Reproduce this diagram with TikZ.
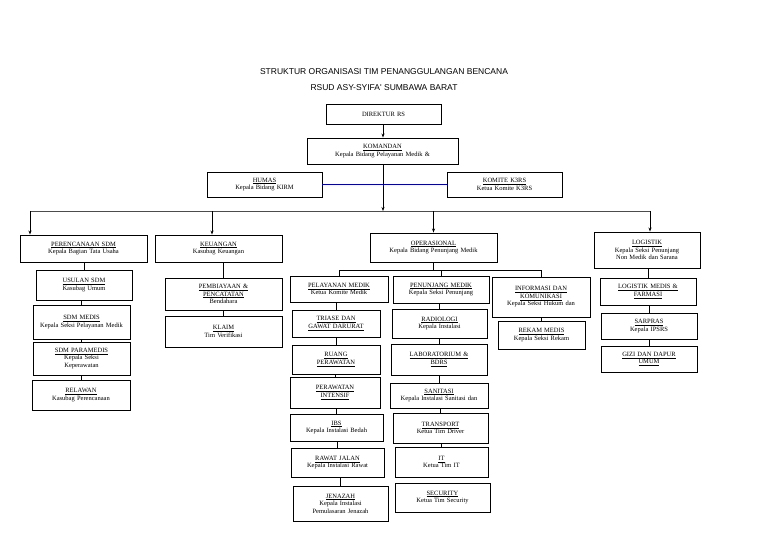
\documentclass[tikz,border=0pt]{standalone}
\usepackage{fontspec}
\setmainfont{Liberation Serif}
\newfontfamily\titlefont{Liberation Sans}
\usetikzlibrary{arrows.meta, positioning, calc}
\tikzset{
  unit/.style = {
    draw, line width=0.9pt, fill=white, align=center, inner sep=1pt,
    font=\fontsize{6.5}{7.5}\selectfont
  },
  arrow/.style = {-{Stealth[length=4pt,width=3pt]}, line width=0.7pt},
  link/.style = {line width=0.7pt},
}
% box from corner coordinates (px, y downwards)
\newcommand{\unitbox}[6]{%
  \pgfmathsetmacro{\uw}{#4-#2}\pgfmathsetmacro{\uh}{#5-#3}\pgfmathsetmacro{\utw}{#4-#2-4}%
  \node[unit, minimum width=\uw pt, minimum height=\uh pt, text width=\utw pt]
    (#1) at ({(#2+#4)/2},{(#3+#5)/2}) {#6};}
\newcommand{\hd}[1]{\underline{#1}}

\begin{document}
\begin{tikzpicture}[x=1pt, y=-1pt]
    \useasboundingbox (0,0) rectangle (768,543);

    % Title
    \node[font=\titlefont\fontsize{8.5}{10}\selectfont] (title1) at (384,72) {STRUKTUR ORGANISASI TIM PENANGGULANGAN BENCANA};
    \node[font=\titlefont\fontsize{8.5}{10}\selectfont] (title2) at (384,88) {RSUD ASY-SYIFA' SUMBAWA BARAT};

    % Top of the chart
    \unitbox{direktur}{326}{104}{441}{124}{DIREKTUR RS}
    \unitbox{komandan}{307}{138}{458}{164}{\hd{KOMANDAN}\\Kepala Bidang Pelayanan Medik \&}
    \unitbox{humas}{207}{172}{322}{197}{\hd{HUMAS}\\Kepala Bidang KIRM}
    \unitbox{komite}{447}{172}{562}{197}{\hd{KOMITE K3RS}\\Ketua Komite K3RS}
    \coordinate (bar) at (383,211);
    \coordinate (barL) at (30,211);
    \coordinate (barM) at (212,211);
    \coordinate (barR) at (650,211);

    % Main units
    \unitbox{perencanaan}{20}{235}{147}{262}{\hd{PERENCANAAN SDM}\\Kepala Bagian Tata Usaha}
    \unitbox{keuangan}{155}{235}{282}{262}{\hd{KEUANGAN}\\Kasubag Keuangan}
    \unitbox{operasional}{370}{233}{497}{262}{\hd{OPERASIONAL}\\Kepala Bidang Penunjang Medik}
    \unitbox{logistik}{594}{232}{700}{268}{\hd{LOGISTIK}\\Kepala Seksi Penunjang Non Medik dan Sarana}

    % Perencanaan SDM column
    \unitbox{usulan}{36}{270}{132}{300}{\hd{USULAN SDM}\\Kasubag Umum}
    \unitbox{sdmmedis}{33}{305}{130}{339}{\hd{SDM MEDIS}\\Kepala Seksi Pelayanan Medik}
    \unitbox{paramedis}{33}{342}{130}{375}{\hd{SDM PARAMEDIS}\\Kepala Seksi\\Keperawatan}
    \unitbox{relawan}{32}{380}{130}{410}{\hd{RELAWAN}\\Kasubag Perencanaan}

    % Keuangan column
    \unitbox{pembiayaan}{165}{278}{282}{310}{\hd{PEMBIAYAAN \&}\\\hd{PENCATATAN}\\Bendahara}
    \unitbox{klaim}{165}{316}{282}{347}{\hd{KLAIM}\\Tim Verifikasi}

    % Operasional sub units
    \unitbox{pelayanan}{290}{276}{388}{302}{\hd{PELAYANAN MEDIK}\\Ketua Komite Medik}
    \unitbox{penunjang}{393}{276}{489}{303}{\hd{PENUNJANG MEDIK}\\Kepala Seksi Penunjang}
    \unitbox{informasi}{492}{277}{590}{317}{\hd{INFORMASI DAN}\\\hd{KOMUNIKASI}\\Kepala Seksi Hukum dan}

    \unitbox{triase}{292}{310}{380}{337}{\hd{TRIASE DAN}\\\hd{GAWAT DARURAT}}
    \unitbox{ruang}{292}{345}{380}{374}{\hd{RUANG}\\\hd{PERAWATAN}}
    \unitbox{intensif}{290}{377}{380}{408}{\hd{PERAWATAN}\\\hd{INTENSIF}}
    \unitbox{ibs}{290}{414}{383}{441}{\hd{IBS}\\Kepala Instalasi Bedah}
    \unitbox{rawatjalan}{291}{448}{384}{477}{\hd{RAWAT JALAN}\\Kepala Instalasi Rawat}
    \unitbox{jenazah}{293}{486}{388}{521}{\hd{JENAZAH}\\Kepala Instalasi\\Pemulasaran Jenazah}

    \unitbox{radiologi}{392}{309}{487}{338}{\hd{RADIOLOGI}\\Kepala Instalasi}
    \unitbox{lab}{391}{344}{487}{375}{\hd{LABORATORIUM \&}\\\hd{BDRS}}
    \unitbox{sanitasi}{390}{383}{488}{408}{\hd{SANITASI}\\Kepala Instalasi Sanitasi dan}
    \unitbox{transport}{393}{413}{488}{443}{\hd{TRANSPORT}\\Ketua Tim Driver}
    \unitbox{it}{395}{447}{488}{477}{\hd{IT}\\Ketua Tim IT}
    \unitbox{security}{395}{483}{490}{512}{\hd{SECURITY}\\Ketua Tim Security}

    \unitbox{rekammedis}{498}{321}{585}{349}{\hd{REKAM MEDIS}\\Kepala Seksi Rekam}

    % Logistik column
    \unitbox{logmedis}{600}{278}{696}{305}{\hd{LOGISTIK MEDIS \&}\\\hd{FARMASI}}
    \unitbox{sarpras}{601}{313}{697}{339}{\hd{SARPRAS}\\Kepala IPSRS}
    \unitbox{gizi}{601}{346}{697}{372}{\hd{GIZI DAN DAPUR}\\\hd{UMUM}}

    % Connectors at the top
    \draw[arrow] (direktur.south -| bar) -- (komandan.north -| bar);
    \draw[blue!70!black, line width=0.6pt] (humas) -- (komite);
    \draw[arrow] (komandan.south -| bar) -- (bar);
    \draw[link, black!70] (barL) -- (barR);
    \draw[arrow] (barL) -- (barL |- perencanaan.north);
    \draw[arrow] (barM) -- (barM |- keuangan.north);
    \draw[arrow] (bar -| operasional) -- (operasional);
    \draw[arrow] (barR) -- (barR |- logistik.north);

    % Column links
    \foreach \a/\b in {perencanaan/usulan, usulan/sdmmedis, sdmmedis/paramedis, paramedis/relawan,
        keuangan/pembiayaan, pembiayaan/klaim,
        pelayanan/triase, triase/ruang, ruang/intensif, intensif/ibs, ibs/rawatjalan, rawatjalan/jenazah,
        penunjang/radiologi, radiologi/lab, lab/sanitasi, sanitasi/transport, transport/it,
        informasi/rekammedis, logistik/logmedis, logmedis/sarpras, sarpras/gizi}
      \draw[link] (\b.north) -- (\b.north |- \a.south);

    % Operasional branches
    \draw[link] (operasional.south) -- ++(0,8) coordinate (opbar);
    \draw[link] (pelayanan.north) |- (opbar) -| (informasi.north);
    \draw[link] (penunjang.north) -- (penunjang.north |- opbar);
\end{tikzpicture}
\end{document}
